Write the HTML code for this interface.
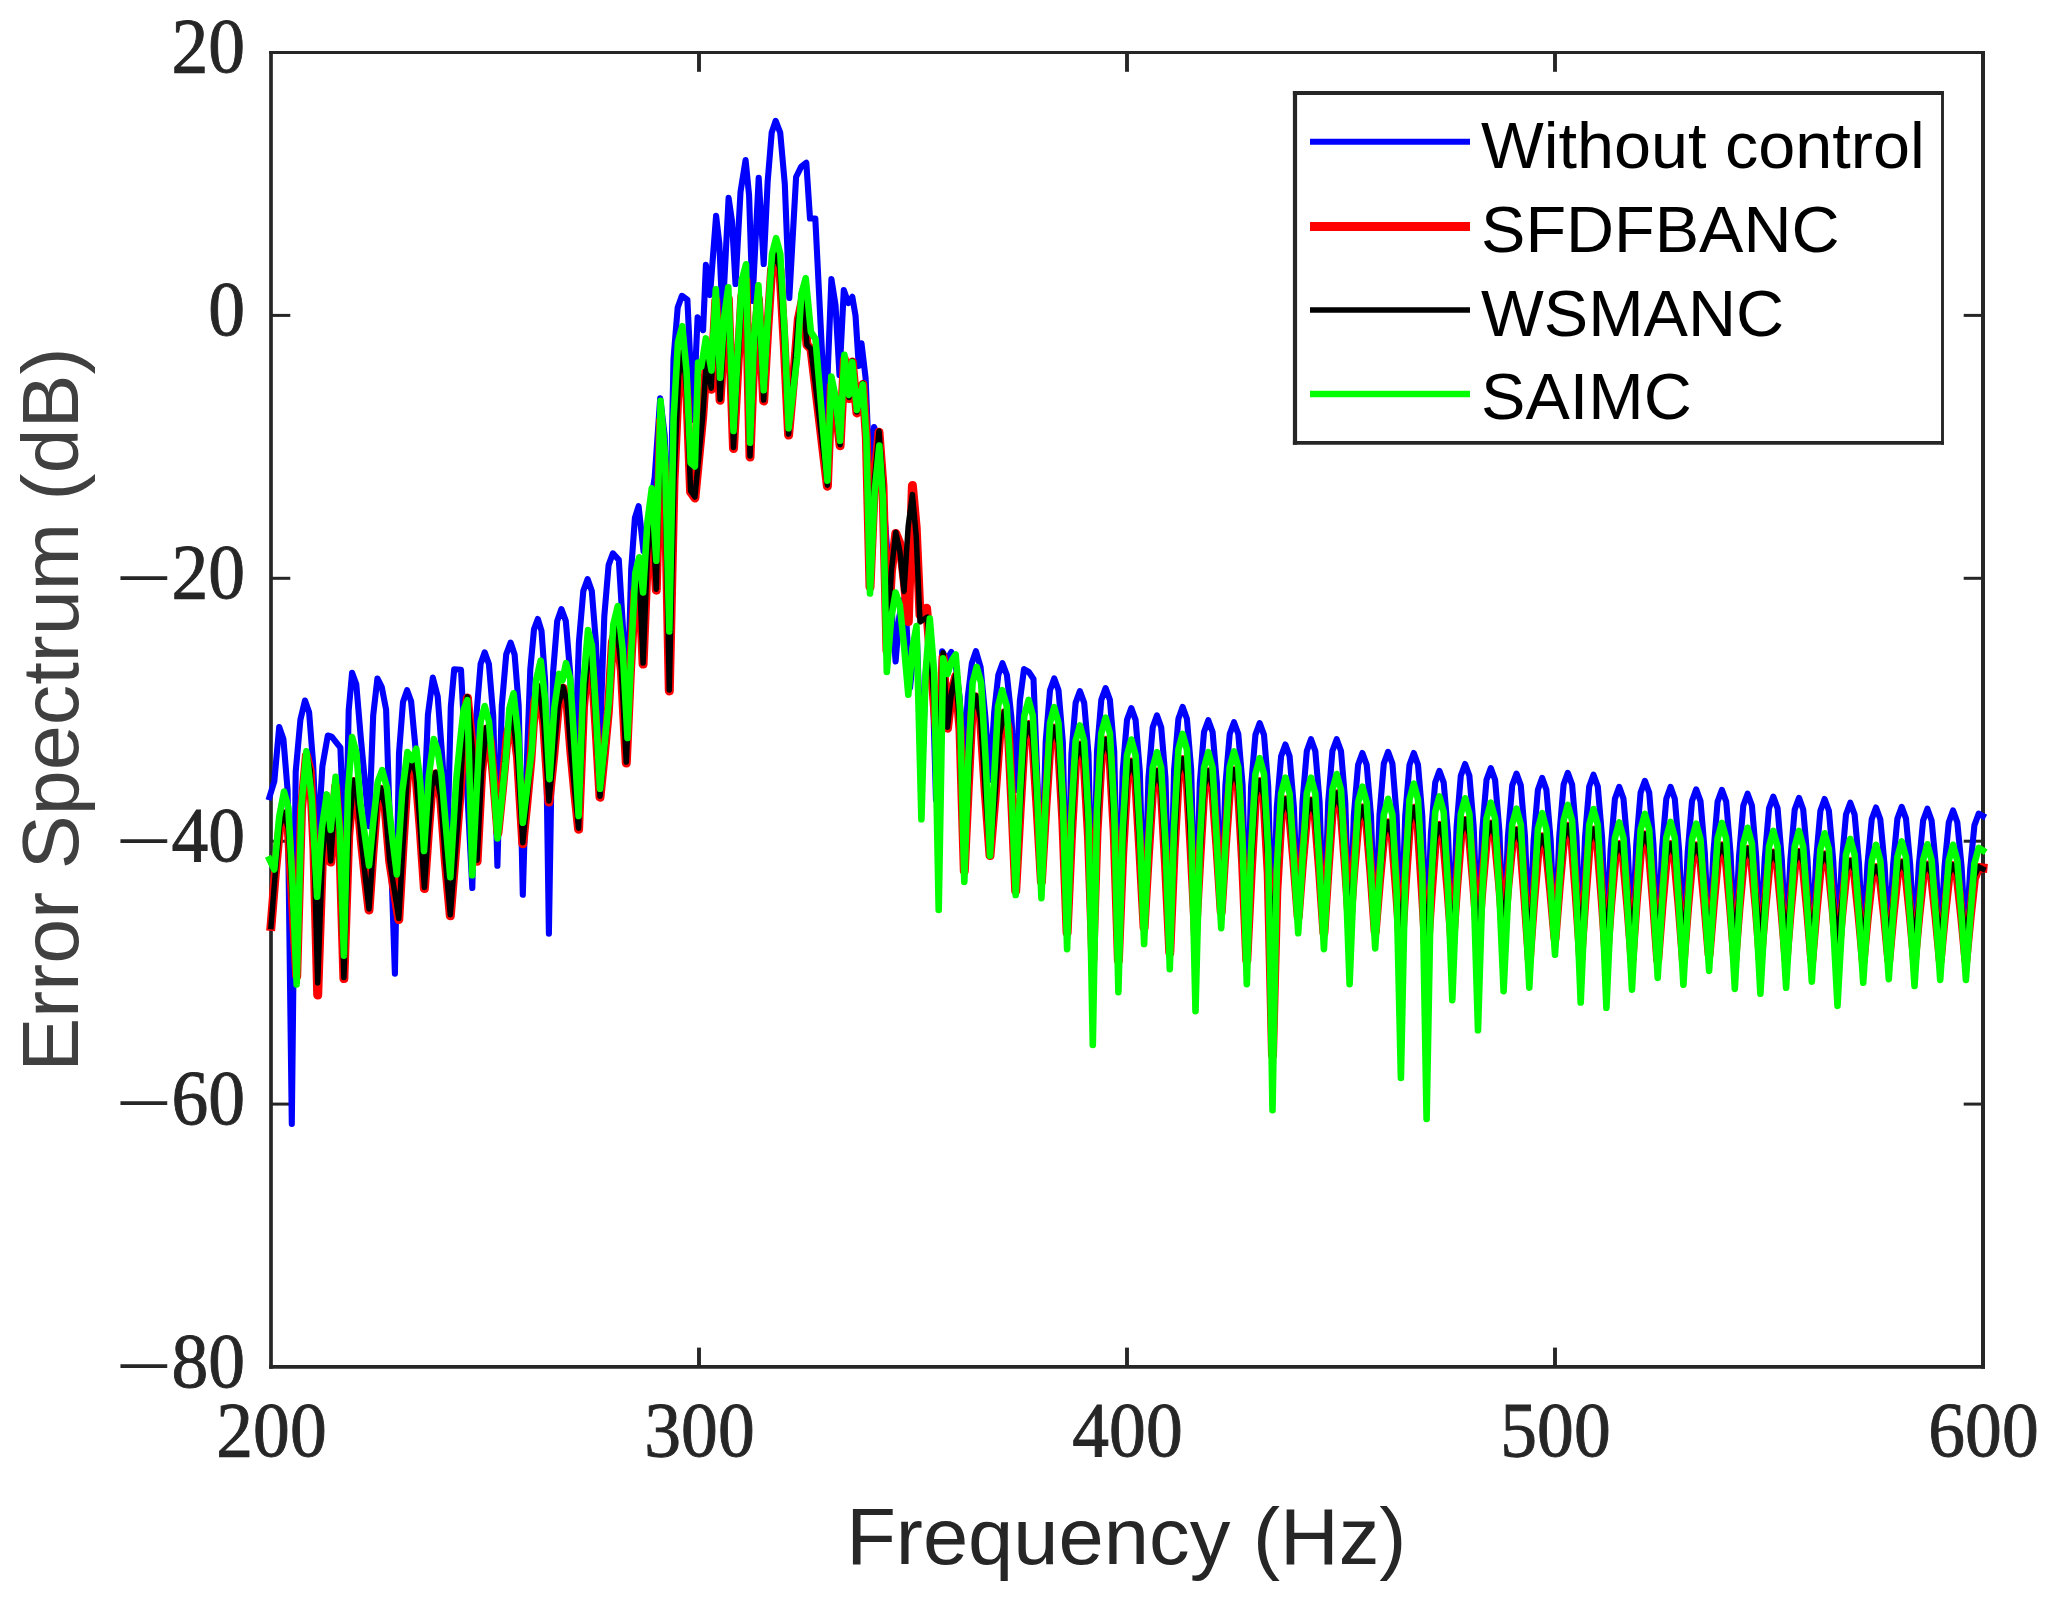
<!DOCTYPE html>
<html><head><meta charset="utf-8"><title>Error Spectrum</title>
<style>html,body{margin:0;padding:0;background:#fff}svg{display:block}</style>
</head><body>
<svg width="2057" height="1605" viewBox="0 0 2057 1605">
<rect width="2057" height="1605" fill="#fff"/>
<line x1="271.00" y1="50.90" x2="271.00" y2="1368.75" stroke="#262626" stroke-width="3.70"/>
<line x1="1983.00" y1="50.90" x2="1983.00" y2="1368.75" stroke="#262626" stroke-width="4.00"/>
<line x1="269.15" y1="52.50" x2="1985.00" y2="52.50" stroke="#262626" stroke-width="3.20"/>
<line x1="269.15" y1="1366.90" x2="1985.00" y2="1366.90" stroke="#262626" stroke-width="3.70"/>
<line x1="699.00" y1="1366.90" x2="699.00" y2="1347.60" stroke="#262626" stroke-width="3.90"/>
<line x1="699.00" y1="52.50" x2="699.00" y2="71.80" stroke="#262626" stroke-width="3.90"/>
<line x1="1127.00" y1="1366.90" x2="1127.00" y2="1347.60" stroke="#262626" stroke-width="3.90"/>
<line x1="1127.00" y1="52.50" x2="1127.00" y2="71.80" stroke="#262626" stroke-width="3.90"/>
<line x1="1555.00" y1="1366.90" x2="1555.00" y2="1347.60" stroke="#262626" stroke-width="3.90"/>
<line x1="1555.00" y1="52.50" x2="1555.00" y2="71.80" stroke="#262626" stroke-width="3.90"/>
<line x1="271.00" y1="315.40" x2="290.30" y2="315.40" stroke="#262626" stroke-width="3.00"/>
<line x1="1983.00" y1="315.40" x2="1963.70" y2="315.40" stroke="#262626" stroke-width="3.00"/>
<line x1="271.00" y1="578.30" x2="290.30" y2="578.30" stroke="#262626" stroke-width="3.00"/>
<line x1="1983.00" y1="578.30" x2="1963.70" y2="578.30" stroke="#262626" stroke-width="3.00"/>
<line x1="271.00" y1="841.20" x2="290.30" y2="841.20" stroke="#262626" stroke-width="3.00"/>
<line x1="1983.00" y1="841.20" x2="1963.70" y2="841.20" stroke="#262626" stroke-width="3.00"/>
<line x1="271.00" y1="1104.10" x2="290.30" y2="1104.10" stroke="#262626" stroke-width="3.00"/>
<line x1="1983.00" y1="1104.10" x2="1963.70" y2="1104.10" stroke="#262626" stroke-width="3.00"/>
<g font-family="'Liberation Serif', 'DejaVu Serif', serif" font-size="78.0" fill="#262626" stroke="#262626" stroke-width="0.9">
<text transform="translate(271.5 1455.8) scale(0.943 1)" text-anchor="middle" class="tk">200</text>
<text transform="translate(699.5 1455.8) scale(0.943 1)" text-anchor="middle" class="tk">300</text>
<text transform="translate(1127.5 1455.8) scale(0.943 1)" text-anchor="middle" class="tk">400</text>
<text transform="translate(1555.5 1455.8) scale(0.943 1)" text-anchor="middle" class="tk">500</text>
<text transform="translate(1983.5 1455.8) scale(0.943 1)" text-anchor="middle" class="tk">600</text>
<text transform="translate(245.0 72.2) scale(0.943 1)" text-anchor="end" class="tk">20</text>
<text transform="translate(245.0 335.1) scale(0.943 1)" text-anchor="end" class="tk">0</text>
<text transform="translate(171.8 582.2) scale(1.270 0.850)" y="20.5" text-anchor="end" stroke-width="0.5">−</text>
<text transform="translate(245.0 598.0) scale(0.943 1)" text-anchor="end" class="tk">20</text>
<text transform="translate(171.8 845.1) scale(1.270 0.850)" y="20.5" text-anchor="end" stroke-width="0.5">−</text>
<text transform="translate(245.0 860.9) scale(0.943 1)" text-anchor="end" class="tk">40</text>
<text transform="translate(171.8 1108.0) scale(1.270 0.850)" y="20.5" text-anchor="end" stroke-width="0.5">−</text>
<text transform="translate(245.0 1123.8) scale(0.943 1)" text-anchor="end" class="tk">60</text>
<text transform="translate(171.8 1370.9) scale(1.270 0.850)" y="20.5" text-anchor="end" stroke-width="0.5">−</text>
<text transform="translate(245.0 1386.7) scale(0.943 1)" text-anchor="end" class="tk">80</text>
</g>
<text transform="translate(1126.3 1563.8) scale(1.023 1)" text-anchor="middle" font-family="'Liberation Sans', Arial, sans-serif" font-size="79.5" fill="#262626">Frequency (Hz)</text>
<text transform="translate(78 709.6) rotate(-90) scale(1.0186 1)" text-anchor="middle" font-family="'Liberation Sans', Arial, sans-serif" font-size="79.5" fill="#404040">Error Spectrum (dB)</text>
<g>
<polyline points="269.4,797.3 274.3,781.4 279.2,727.1 283.4,739.0 287.6,790.2 291.8,1124.0 295.7,771.7 300.4,719.7 305.0,700.5 309.1,712.3 313.1,763.6 317.1,853.3 322.4,766.2 327.8,735.5 331.7,736.7 336.0,742.1 340.4,747.6 345.3,872.8 348.7,710.2 352.1,672.7 356.3,684.4 360.5,734.6 364.8,780.4 369.0,826.1 373.2,715.4 377.4,678.5 381.7,686.9 386.1,709.5 390.5,841.6 394.9,973.7 399.0,753.3 403.0,702.0 407.1,690.2 411.1,701.2 415.1,743.9 419.1,788.9 423.1,833.9 427.9,715.0 432.8,677.6 437.7,696.4 442.5,760.5 447.4,843.6 450.8,706.9 454.2,669.4 457.6,669.5 461.0,669.8 464.8,742.5 468.5,815.3 472.3,888.0 476.4,715.4 480.6,664.1 484.7,652.3 488.9,664.1 493.2,715.4 497.4,865.8 501.8,705.7 506.2,654.4 510.6,642.6 514.6,654.4 518.7,705.7 522.8,894.8 526.5,770.9 530.3,669.4 534.0,629.4 537.8,619.0 541.5,630.8 545.2,682.1 548.9,933.6 553.1,672.2 557.2,620.9 561.4,609.1 565.8,620.9 570.1,672.2 574.5,770.0 578.9,642.2 583.3,591.0 587.6,579.1 591.8,591.0 595.9,642.2 600.0,740.0 604.3,616.4 608.6,565.1 612.9,553.3 618.8,559.9 623.1,629.9 627.5,700.0 631.2,569.3 634.9,518.0 638.6,506.2 643.5,551.1 647.2,526.5 651.0,501.9 654.7,477.2 660.2,398.3 664.7,435.7 669.3,574.5 673.5,358.9 677.7,307.6 681.9,295.8 687.4,299.7 693.0,420.0 697.6,317.4 703.1,330.2 705.9,264.8 710.0,295.1 716.1,215.8 719.3,243.0 722.5,317.2 728.6,197.9 732.0,221.1 735.5,284.0 740.5,192.0 745.6,160.0 749.1,195.5 752.5,301.0 758.7,177.9 763.7,264.0 767.7,180.9 771.7,132.6 775.7,120.8 780.2,132.6 784.8,183.9 789.3,298.0 792.7,237.5 796.1,177.0 801.2,166.6 806.3,162.8 810.0,218.5 815.3,218.5 820.5,322.2 825.6,426.0 831.4,279.1 835.5,305.0 839.5,375.0 843.8,290.0 848.3,303.0 852.3,296.8 855.5,315.5 858.8,366.0 861.5,343.4 865.6,378.0 869.8,480.0 874.1,427.1 878.4,439.2 882.7,490.7 887.0,547.6 891.3,604.5 895.6,661.4 899.3,616.6 903.0,600.0 906.5,623.8 910.0,688.0 913.5,653.0 917.0,640.0 922.0,780.0 925.5,675.3 929.0,640.0 932.5,677.5 936.0,800.0 942.2,651.2 946.8,660.0 951.3,652.0 955.5,663.8 959.6,697.4 963.8,760.0 967.8,696.9 971.9,663.0 975.9,651.2 980.6,667.2 985.3,716.6 990.0,780.0 994.2,712.3 998.3,675.0 1002.5,663.2 1006.9,675.0 1011.3,716.5 1015.7,790.0 1019.9,700.4 1024.0,669.1 1028.8,671.8 1033.5,679.0 1037.5,783.2 1041.4,887.4 1045.7,741.5 1050.0,690.2 1054.2,678.4 1058.5,690.2 1062.8,741.5 1067.1,938.4 1071.4,754.2 1075.6,702.9 1079.9,691.1 1084.2,702.9 1088.5,754.2 1092.8,945.0 1097.0,751.2 1101.3,699.9 1105.6,688.1 1109.9,699.9 1114.2,751.2 1118.4,945.0 1122.7,771.2 1127.0,719.9 1131.3,708.1 1135.6,719.9 1139.8,771.2 1144.1,933.3 1148.4,778.5 1152.7,727.2 1157.0,715.4 1161.2,727.2 1165.5,778.5 1169.8,945.0 1174.1,770.0 1178.4,718.7 1182.6,706.9 1186.9,718.7 1191.2,770.0 1195.5,945.0 1199.8,783.3 1204.0,732.0 1208.3,720.2 1212.6,732.0 1216.9,783.3 1221.2,917.5 1225.4,785.3 1229.7,734.0 1234.0,722.2 1238.3,734.0 1242.6,785.3 1246.8,945.0 1251.1,786.2 1255.4,734.9 1259.7,723.1 1264.0,734.9 1268.2,786.2 1272.5,945.0 1276.8,807.6 1281.1,756.3 1285.4,744.5 1289.6,756.3 1293.9,807.6 1298.2,922.6 1302.5,802.3 1306.8,751.0 1311.0,739.2 1315.3,751.0 1319.6,802.3 1323.9,938.4 1328.2,802.3 1332.4,751.0 1336.7,739.2 1341.0,751.0 1345.3,802.3 1349.6,945.0 1353.8,816.1 1358.1,764.8 1362.4,753.0 1366.7,764.8 1371.0,816.1 1375.2,937.7 1379.5,814.9 1383.8,763.6 1388.1,751.8 1392.4,763.6 1396.6,814.9 1400.9,945.0 1405.2,816.1 1409.5,764.8 1413.8,753.0 1418.0,764.8 1422.3,816.1 1426.6,945.0 1430.9,833.9 1435.2,782.6 1439.4,770.8 1443.7,782.6 1448.0,833.9 1452.3,945.0 1456.6,827.1 1460.8,775.8 1465.1,764.0 1469.4,775.8 1473.7,827.1 1478.0,945.0 1482.2,831.2 1486.5,779.9 1490.8,768.1 1495.1,779.9 1499.4,831.2 1503.6,945.0 1507.9,836.7 1512.2,785.4 1516.5,773.6 1520.8,785.4 1525.0,836.7 1529.3,945.0 1533.6,841.0 1537.9,789.7 1542.2,777.9 1546.4,789.7 1550.7,841.0 1555.0,944.1 1559.3,835.9 1563.6,784.6 1567.8,772.8 1572.1,784.6 1576.4,835.9 1580.7,945.0 1585.0,837.8 1589.2,786.5 1593.5,774.7 1597.8,786.5 1602.1,837.8 1606.4,945.0 1610.6,850.0 1614.9,798.7 1619.2,786.9 1623.5,798.7 1627.8,850.0 1632.0,945.0 1636.3,843.9 1640.6,792.6 1644.9,780.8 1649.2,792.6 1653.4,843.9 1657.7,945.0 1662.0,850.0 1666.3,798.7 1670.6,786.9 1674.8,798.7 1679.1,850.0 1683.4,945.0 1687.7,852.4 1692.0,801.1 1696.2,789.3 1700.5,801.1 1704.8,852.4 1709.1,945.0 1713.4,852.9 1717.6,801.6 1721.9,789.8 1726.2,801.6 1730.5,852.9 1734.8,945.0 1739.0,856.8 1743.3,805.5 1747.6,793.7 1751.9,805.5 1756.2,856.8 1760.4,945.0 1764.7,858.9 1769.0,808.4 1773.3,796.6 1777.6,808.4 1781.8,858.9 1786.1,945.0 1790.4,859.6 1794.7,809.6 1799.0,797.8 1803.2,809.6 1807.5,859.6 1811.8,945.0 1816.1,860.3 1820.4,810.8 1824.6,799.0 1828.9,810.8 1833.2,860.3 1837.5,945.0 1841.8,862.5 1846.0,814.5 1850.3,802.7 1854.6,814.5 1858.9,862.5 1863.2,945.0 1867.4,865.2 1871.7,819.3 1876.0,807.5 1880.3,819.3 1884.6,865.2 1888.8,945.0 1893.1,864.8 1897.4,818.6 1901.7,806.8 1906.0,818.6 1910.2,864.8 1914.5,945.0 1918.8,865.9 1923.1,820.5 1927.4,808.7 1931.6,820.5 1935.9,865.9 1940.2,945.0 1944.5,866.9 1948.8,822.2 1953.0,810.4 1957.3,822.2 1961.6,866.9 1965.9,945.0 1970.2,868.8 1974.4,825.4 1978.7,813.6 1983.0,816.0" fill="none" stroke="#0000ff" stroke-width="6.10" stroke-linejoin="round" stroke-linecap="square"/>
<polyline points="271.0,926.5 275.3,873.5 279.7,827.2 284.0,813.7 288.3,829.5 292.5,899.7 296.7,976.0 301.5,809.3 306.4,755.4 310.2,771.1 313.9,847.4 317.7,995.0 322.3,859.8 326.8,805.9 330.7,862.1 335.6,786.5 339.7,840.4 343.9,978.6 348.7,835.3 353.5,781.4 357.3,795.4 361.2,839.9 365.1,876.4 369.0,910.0 372.9,853.2 376.8,803.7 380.7,789.2 385.2,807.9 389.7,861.4 394.2,890.4 398.8,919.5 403.1,844.6 407.4,775.8 411.8,760.0 416.0,775.5 420.2,828.2 424.4,888.6 428.2,834.6 431.9,787.4 435.7,773.7 440.6,797.5 445.4,861.9 450.3,915.8 455.2,855.4 460.0,795.0 463.7,729.5 467.4,698.0 472.3,749.1 477.1,861.2 481.7,771.9 486.3,728.9 490.2,741.4 494.0,784.1 497.9,833.0 502.7,786.5 507.4,734.5 512.1,715.3 517.5,757.1 522.8,843.8 526.8,804.1 530.8,761.1 534.8,702.0 538.8,687.3 543.8,724.6 548.9,802.0 553.6,757.1 558.3,706.7 563.1,688.1 567.0,702.4 570.9,752.1 574.7,792.4 578.6,829.3 583.5,707.2 588.4,653.3 592.2,669.1 596.1,729.5 600.0,797.2 604.2,755.7 608.3,712.1 612.4,642.3 616.6,627.0 621.4,671.0 626.3,763.1 630.6,667.7 634.9,591.4 639.2,575.7 643.1,664.1 647.4,557.0 651.8,507.6 656.3,590.2 660.6,420.1 664.9,474.0 669.3,691.0 674.0,481.0 678.7,375.8 683.4,352.9 687.0,397.6 690.6,492.0 694.9,498.0 698.8,457.5 702.7,417.1 706.6,359.3 711.2,389.2 715.8,300.3 720.1,400.3 724.2,331.9 728.3,299.0 733.5,448.4 737.7,369.5 741.8,296.3 746.0,280.6 750.0,457.0 754.2,348.7 758.4,299.0 763.7,401.0 767.6,331.8 771.6,269.6 775.5,253.8 779.9,269.6 784.3,345.8 788.6,435.1 793.4,381.8 798.3,319.4 803.1,296.5 807.0,345.0 810.9,348.8 815.1,383.2 819.2,417.5 823.3,451.9 827.4,486.2 831.3,385.6 835.7,405.1 840.1,445.8 844.4,359.3 849.0,398.5 852.3,362.1 856.9,412.9 862.8,384.4 866.4,438.3 870.0,587.0 874.5,481.2 879.0,432.3 883.0,486.2 887.0,651.0 891.4,571.6 895.8,533.4 900.0,544.0 904.1,580.1 908.3,621.6 912.4,485.6 916.2,527.7 920.0,615.0 923.3,611.6 926.6,608.3 930.6,659.2 934.7,710.1 938.7,761.0 943.1,657.0 947.5,728.2 951.6,693.1 955.7,676.2 960.0,730.1 964.3,871.0 968.2,788.8 972.0,712.6 975.9,696.8 980.6,719.3 985.3,792.2 990.0,855.5 994.8,800.4 999.6,735.8 1004.4,712.8 1008.2,728.6 1011.9,804.8 1015.7,891.0 1020.0,812.7 1024.3,740.2 1028.6,724.4 1032.8,740.2 1037.1,807.9 1041.4,881.9 1045.7,809.6 1050.0,743.8 1054.2,728.0 1058.5,743.8 1062.8,820.0 1067.1,932.9 1071.4,837.0 1075.6,760.8 1079.9,745.0 1084.2,760.8 1088.5,837.0 1092.8,960.5 1097.0,832.2 1101.3,756.0 1105.6,740.2 1109.9,756.0 1114.2,832.2 1118.4,960.5 1122.7,854.1 1127.0,777.9 1131.3,762.1 1135.6,777.9 1139.8,849.9 1144.1,927.8 1148.4,854.5 1152.7,787.6 1157.0,771.8 1161.2,787.6 1165.5,863.8 1169.8,952.9 1174.1,851.6 1178.4,775.4 1182.6,759.6 1186.9,775.4 1191.2,851.6 1195.5,936.5 1199.8,859.1 1204.0,787.6 1208.3,771.8 1212.6,787.6 1216.9,846.1 1221.2,912.0 1225.4,845.5 1229.7,786.4 1234.0,770.6 1238.3,786.4 1242.6,862.6 1246.8,960.5 1251.1,873.5 1255.4,797.3 1259.7,781.5 1264.0,797.3 1268.2,873.5 1272.5,1055.5 1276.8,891.7 1281.1,815.5 1285.4,799.7 1289.6,813.8 1293.9,861.9 1298.2,917.1 1302.5,862.5 1306.8,814.8 1311.0,800.9 1315.3,816.7 1319.6,870.9 1323.9,932.9 1328.2,867.5 1332.4,809.5 1336.7,793.7 1341.0,809.5 1345.3,864.6 1349.6,927.5 1353.8,871.2 1358.1,822.2 1362.4,807.8 1366.7,822.7 1371.0,873.7 1375.2,932.2 1379.5,880.8 1383.8,835.9 1388.1,822.8 1392.4,838.5 1396.6,892.1 1400.9,953.5 1405.2,885.2 1409.5,824.0 1413.8,808.2 1418.0,824.0 1422.3,890.5 1426.6,963.5 1430.9,898.5 1435.2,841.1 1439.4,825.3 1443.7,840.1 1448.0,890.6 1452.3,948.5 1456.6,888.3 1460.8,835.8 1465.1,820.4 1469.4,834.9 1473.7,884.6 1478.0,941.5 1482.2,886.3 1486.5,838.1 1490.8,824.0 1495.1,837.3 1499.4,882.6 1503.6,934.5 1507.9,885.6 1512.2,843.0 1516.5,830.5 1520.8,846.1 1525.0,899.4 1529.3,960.5 1533.6,902.3 1537.9,851.6 1542.2,836.7 1546.4,848.9 1550.7,890.7 1555.0,938.6 1559.3,885.8 1563.6,839.8 1567.8,826.3 1572.1,842.1 1576.4,897.4 1580.7,960.5 1585.0,899.1 1589.2,845.6 1593.5,829.9 1597.8,845.6 1602.1,899.1 1606.4,960.5 1610.6,906.0 1614.9,858.4 1619.2,844.5 1623.5,858.4 1627.8,906.0 1632.0,960.5 1636.3,901.4 1640.6,849.9 1644.9,834.8 1649.2,849.9 1653.4,901.4 1657.7,960.5 1662.0,906.0 1666.3,858.4 1670.6,844.5 1674.8,858.4 1679.1,906.0 1683.4,960.5 1687.7,906.5 1692.0,859.5 1696.2,845.7 1700.5,858.8 1704.8,903.5 1709.1,954.7 1713.4,903.5 1717.6,858.8 1721.9,845.7 1726.2,859.5 1730.5,906.5 1734.8,960.5 1739.0,908.2 1743.3,862.6 1747.6,849.3 1751.9,862.6 1756.2,908.2 1760.4,960.5 1764.7,910.0 1769.0,865.9 1773.3,853.0 1777.6,865.9 1781.8,910.0 1786.1,960.5 1790.4,909.6 1794.7,865.3 1799.0,852.3 1803.2,865.3 1807.5,909.6 1811.8,960.5 1816.1,910.8 1820.4,867.4 1824.6,854.7 1828.9,867.4 1833.2,910.8 1837.5,960.5 1841.8,914.0 1846.0,873.4 1850.3,861.5 1854.6,873.4 1858.9,914.0 1863.2,960.5 1867.4,916.8 1871.7,878.7 1876.0,867.6 1880.3,878.7 1884.6,916.8 1888.8,960.5 1893.1,914.5 1897.4,874.4 1901.7,862.7 1906.0,874.4 1910.2,914.5 1914.5,960.5 1918.8,915.7 1923.1,876.5 1927.4,865.1 1931.6,876.5 1935.9,915.7 1940.2,960.5 1944.5,915.9 1948.8,877.0 1953.0,865.6 1957.3,877.0 1961.6,915.9 1965.9,960.5 1970.2,916.8 1974.4,878.7 1978.7,867.6 1983.0,868.0" fill="none" stroke="#ff0000" stroke-width="9.00" stroke-linejoin="round" stroke-linecap="square"/>
<polyline points="271.0,926.5 275.3,872.9 279.7,826.2 284.0,812.5 288.3,828.3 292.5,898.6 296.7,975.0 301.5,808.1 306.4,754.2 310.2,769.9 313.9,846.2 317.7,983.0 322.3,858.6 326.8,804.7 330.7,861.1 335.6,785.3 339.7,839.2 343.9,977.6 348.7,834.1 353.5,780.2 357.3,794.3 361.2,838.8 365.1,875.3 369.0,909.0 372.9,852.1 376.8,802.5 380.7,788.0 385.2,806.7 389.7,860.3 394.2,889.4 398.8,918.5 403.1,843.5 407.4,774.6 411.8,758.8 416.0,774.3 420.2,827.1 424.4,887.6 428.2,833.5 431.9,786.3 435.7,772.5 440.6,796.3 445.4,860.8 450.3,914.8 455.2,854.9 460.0,795.0 463.7,728.7 467.4,696.8 472.3,748.0 477.1,860.2 481.7,770.7 486.3,727.7 490.2,740.2 494.0,783.0 497.9,832.0 502.7,785.5 507.4,733.4 512.1,714.1 517.5,756.0 522.8,842.8 526.8,803.1 530.8,760.0 534.8,700.8 538.8,686.1 543.8,723.5 548.9,801.0 553.6,756.0 558.3,705.5 563.1,686.9 567.0,701.2 570.9,751.0 574.7,791.3 578.6,828.3 583.5,706.0 588.4,652.1 592.2,667.9 596.1,728.5 600.0,796.2 604.2,754.7 608.3,711.0 612.4,641.1 616.6,625.8 621.4,669.8 626.3,762.1 630.6,666.5 634.9,590.2 639.2,574.5 643.1,663.1 647.4,555.8 651.8,506.4 656.3,589.2 660.6,418.9 664.9,472.8 669.3,690.0 674.0,479.8 678.7,374.6 683.4,351.7 687.0,396.5 690.6,491.0 694.9,497.0 698.8,457.0 702.7,417.1 706.6,358.1 711.2,388.2 715.8,299.1 720.1,399.3 724.2,330.8 728.3,297.8 733.5,447.4 737.7,368.4 741.8,295.1 746.0,279.4 750.0,456.0 754.2,347.6 758.4,297.8 763.7,400.0 767.6,330.7 771.6,268.4 775.5,252.6 779.9,268.4 784.3,344.6 788.6,434.1 793.4,380.7 798.3,318.2 803.1,295.3 807.0,345.0 810.9,348.8 815.1,382.9 819.2,417.0 823.3,451.1 827.4,485.2 831.3,384.4 835.7,404.0 840.1,444.8 844.4,358.1 849.0,397.5 852.3,360.9 856.9,411.9 862.8,383.2 866.4,437.1 870.0,586.0 874.5,480.0 879.0,431.1 883.0,485.0 887.0,650.0 891.4,570.5 895.8,532.2 899.9,551.4 904.0,591.4 908.2,526.0 912.4,494.5 916.2,535.9 920.0,622.0 923.6,619.5 927.3,617.1 931.1,664.7 934.9,712.4 938.7,760.0 943.1,652.8 947.5,727.2 951.6,692.0 955.7,675.0 960.0,728.9 964.3,870.0 968.2,787.6 972.0,711.4 975.9,695.6 980.6,718.1 985.3,791.1 990.0,854.5 994.8,799.3 999.6,734.7 1004.4,711.6 1008.2,727.4 1011.9,803.6 1015.7,890.0 1020.0,811.8 1024.3,739.4 1028.6,723.6 1032.8,739.4 1037.1,807.4 1041.4,881.6 1045.7,809.1 1050.0,743.0 1054.2,727.2 1058.5,743.0 1062.8,819.3 1067.1,932.6 1071.4,836.3 1075.6,760.0 1079.9,744.2 1084.2,760.0 1088.5,836.3 1092.8,943.2 1097.0,831.5 1101.3,755.2 1105.6,739.5 1109.9,755.2 1114.2,831.5 1118.4,943.2 1122.7,853.4 1127.0,777.1 1131.3,761.4 1135.6,777.1 1139.8,849.4 1144.1,927.5 1148.4,854.0 1152.7,786.8 1157.0,771.0 1161.2,786.8 1165.5,862.3 1169.8,943.2 1174.1,850.9 1178.4,774.6 1182.6,758.9 1186.9,774.6 1191.2,850.9 1195.5,936.2 1199.8,858.6 1204.0,786.8 1208.3,771.0 1212.6,786.8 1216.9,845.6 1221.2,911.8 1225.4,845.1 1229.7,785.6 1234.0,769.9 1238.3,785.6 1242.6,861.8 1246.8,943.2 1251.1,866.9 1255.4,796.5 1259.7,780.8 1264.0,796.5 1268.2,866.9 1272.5,943.2 1276.8,875.4 1281.1,814.7 1285.4,799.0 1289.6,813.1 1293.9,861.4 1298.2,916.9 1302.5,862.0 1306.8,814.2 1311.0,800.1 1315.3,815.9 1319.6,870.4 1323.9,932.6 1328.2,867.0 1332.4,808.7 1336.7,793.0 1341.0,808.7 1345.3,864.1 1349.6,927.2 1353.8,870.8 1358.1,821.5 1362.4,807.0 1366.7,822.0 1371.0,873.2 1375.2,932.0 1379.5,880.3 1383.8,835.2 1388.1,822.0 1392.4,836.6 1396.6,886.3 1400.9,943.2 1405.2,879.4 1409.5,823.2 1413.8,807.5 1418.0,823.2 1422.3,879.4 1426.6,943.2 1430.9,887.5 1435.2,838.8 1439.4,824.5 1443.7,838.8 1448.0,887.5 1452.3,943.2 1456.6,885.2 1460.8,834.5 1465.1,819.6 1469.4,834.2 1473.7,884.1 1478.0,941.2 1482.2,885.8 1486.5,837.4 1490.8,823.2 1495.1,836.6 1499.4,882.1 1503.6,934.2 1507.9,885.1 1512.2,842.3 1516.5,829.8 1520.8,843.4 1525.0,889.9 1529.3,943.2 1533.6,892.8 1537.9,848.8 1542.2,836.0 1546.4,848.2 1550.7,890.2 1555.0,938.4 1559.3,885.3 1563.6,839.1 1567.8,825.5 1572.1,839.7 1576.4,887.9 1580.7,943.2 1585.0,889.6 1589.2,842.8 1593.5,829.1 1597.8,842.8 1602.1,889.6 1606.4,943.2 1610.6,896.5 1614.9,855.7 1619.2,843.8 1623.5,855.7 1627.8,896.5 1632.0,943.2 1636.3,891.9 1640.6,847.2 1644.9,834.0 1649.2,847.2 1653.4,891.9 1657.7,943.2 1662.0,896.5 1666.3,855.7 1670.6,843.8 1674.8,855.7 1679.1,896.5 1683.4,943.2 1687.7,897.0 1692.0,856.7 1696.2,845.0 1700.5,856.7 1704.8,897.0 1709.1,943.2 1713.4,897.0 1717.6,856.7 1721.9,845.0 1726.2,856.7 1730.5,897.0 1734.8,943.2 1739.0,898.7 1743.3,859.9 1747.6,848.5 1751.9,859.9 1756.2,898.7 1760.4,943.2 1764.7,900.5 1769.0,863.2 1773.3,852.2 1777.6,863.2 1781.8,900.5 1786.1,943.2 1790.4,900.2 1794.7,862.6 1799.0,851.5 1803.2,862.6 1807.5,900.2 1811.8,943.2 1816.1,901.3 1820.4,864.7 1824.6,854.0 1828.9,864.7 1833.2,901.3 1837.5,943.2 1841.8,904.5 1846.0,870.6 1850.3,860.8 1854.6,870.6 1858.9,904.5 1863.2,943.2 1867.4,907.3 1871.7,876.0 1876.0,866.9 1880.3,876.0 1884.6,907.3 1888.8,943.2 1893.1,905.0 1897.4,871.7 1901.7,862.0 1906.0,871.7 1910.2,905.0 1914.5,943.2 1918.8,906.2 1923.1,873.8 1927.4,864.4 1931.6,873.8 1935.9,906.2 1940.2,943.2 1944.5,906.4 1948.8,874.3 1953.0,864.9 1957.3,874.3 1961.6,906.4 1965.9,943.2 1970.2,907.3 1974.4,876.0 1978.7,866.9 1983.0,869.0" fill="none" stroke="#000000" stroke-width="5.50" stroke-linejoin="round" stroke-linecap="square"/>
<polyline points="269.4,859.2 274.3,869.5 279.2,816.9 284.0,791.5 288.3,807.3 292.5,883.5 296.7,984.5 301.5,805.2 306.4,751.3 311.7,797.7 317.1,896.7 321.9,827.7 326.8,794.4 330.7,830.0 335.6,776.9 339.7,830.8 343.9,955.7 348.0,791.0 352.1,737.1 356.3,752.3 360.5,803.9 364.8,835.0 369.0,865.6 373.4,820.7 377.8,781.6 382.2,770.1 387.1,788.4 392.0,834.8 396.8,874.4 402.2,791.8 407.5,752.0 411.8,760.0 416.3,748.7 420.2,782.0 424.0,851.0 428.9,775.4 433.8,739.0 437.7,750.9 441.5,775.6 445.9,826.4 450.3,877.3 456.1,781.4 459.9,743.2 463.6,709.9 467.4,700.1 472.3,875.3 476.4,795.7 480.6,721.7 484.7,706.0 489.0,721.7 493.3,776.1 497.5,838.4 501.5,801.6 505.5,761.8 509.5,708.0 513.5,693.3 518.2,735.4 522.8,822.8 527.3,786.3 531.8,749.7 536.2,679.6 540.7,660.6 545.1,699.1 549.5,779.1 554.3,708.1 559.2,673.9 562.5,680.3 566.0,663.2 570.2,678.9 574.4,744.2 578.6,816.0 583.3,684.0 588.0,630.1 592.0,645.9 596.0,714.2 600.0,788.8 604.5,745.0 608.9,701.1 613.3,624.6 617.8,606.0 622.6,648.8 627.5,738.0 631.4,649.4 635.3,573.1 639.2,557.3 643.1,592.5 647.4,522.2 651.8,488.3 656.3,560.8 660.6,400.8 664.9,454.7 669.3,631.4 673.6,418.2 678.0,342.0 682.3,326.2 686.5,370.4 690.6,463.0 694.9,466.5 698.1,362.5 701.3,366.7 705.9,338.4 711.5,370.6 715.8,289.2 720.1,377.8 724.2,316.7 728.3,287.3 733.5,431.0 737.7,352.6 741.8,280.1 746.0,264.3 750.0,442.8 754.2,334.9 758.4,285.3 763.7,390.3 767.8,318.8 772.0,254.0 776.1,238.2 780.3,254.0 784.5,330.2 788.6,428.3 792.9,392.9 797.2,357.3 801.4,293.8 805.7,278.1 810.9,331.9 815.5,339.1 819.5,386.3 823.4,433.5 827.4,480.7 831.3,376.5 835.7,397.4 840.1,440.8 844.4,354.8 849.0,394.9 852.3,362.1 856.9,410.0 862.8,384.4 866.4,438.3 870.0,593.5 874.6,492.6 879.3,445.5 883.0,499.4 886.8,672.0 891.2,618.4 895.6,592.6 899.8,604.9 904.1,646.8 908.3,694.8 912.4,648.4 916.5,626.1 921.4,819.3 925.6,672.4 929.8,618.5 934.2,672.4 938.7,910.0 943.1,658.4 947.5,674.0 951.6,660.9 955.7,654.6 960.0,708.5 964.3,882.0 968.4,758.9 972.6,682.7 976.7,666.9 981.1,682.7 985.6,758.9 990.0,855.8 994.1,778.0 998.1,706.0 1002.2,690.2 1006.7,706.0 1011.2,782.2 1015.7,895.0 1020.0,791.9 1024.3,715.7 1028.6,699.9 1032.8,715.7 1037.1,791.9 1041.4,898.1 1045.7,799.2 1050.0,723.0 1054.2,707.2 1058.5,723.0 1062.8,799.2 1067.1,949.1 1071.4,817.4 1075.6,741.2 1079.9,725.4 1084.2,741.2 1088.5,817.4 1092.8,1044.9 1097.0,809.6 1101.3,733.4 1105.6,717.6 1109.9,733.4 1114.2,809.6 1118.4,992.2 1122.7,831.5 1127.0,755.3 1131.3,739.5 1135.6,755.3 1139.8,831.5 1144.1,944.0 1148.4,844.1 1152.7,767.9 1157.0,752.1 1161.2,767.9 1165.5,844.1 1169.8,969.1 1174.1,825.9 1178.4,749.7 1182.6,733.9 1186.9,749.7 1191.2,825.9 1195.5,1011.1 1199.8,844.1 1204.0,767.9 1208.3,752.1 1212.6,767.9 1216.9,844.1 1221.2,928.2 1225.4,843.4 1229.7,767.2 1234.0,751.4 1238.3,767.2 1242.6,843.4 1246.8,984.1 1251.1,850.2 1255.4,774.0 1259.7,758.2 1264.0,774.0 1268.2,850.2 1272.5,1110.1 1276.8,869.7 1281.1,793.5 1285.4,777.7 1289.6,793.5 1293.9,860.2 1298.2,933.3 1302.5,860.2 1306.8,793.5 1311.0,777.7 1315.3,793.5 1319.6,868.5 1323.9,949.1 1328.2,866.0 1332.4,789.8 1336.7,774.0 1341.0,789.8 1345.3,866.0 1349.6,984.1 1353.8,878.6 1358.1,802.4 1362.4,786.6 1366.7,802.4 1371.0,872.4 1375.2,948.4 1379.5,878.1 1383.8,814.6 1388.1,798.8 1392.4,814.6 1396.6,890.8 1400.9,1078.0 1405.2,875.7 1409.5,799.5 1413.8,783.7 1418.0,799.5 1422.3,875.7 1426.6,1119.0 1430.9,888.4 1435.2,812.2 1439.4,796.4 1443.7,812.2 1448.0,888.4 1452.3,1000.2 1456.6,890.3 1460.8,814.1 1465.1,798.3 1469.4,814.1 1473.7,890.3 1478.0,1030.3 1482.2,894.7 1486.5,818.5 1490.8,802.7 1495.1,818.5 1499.4,894.7 1503.6,991.1 1507.9,900.7 1512.2,824.5 1516.5,808.7 1520.8,824.5 1525.0,900.7 1529.3,987.7 1533.6,905.2 1537.9,829.0 1542.2,813.2 1546.4,829.0 1550.7,888.2 1555.0,954.8 1559.3,884.3 1563.6,820.7 1567.8,804.9 1572.1,820.7 1576.4,896.9 1580.7,1002.5 1585.0,901.0 1589.2,824.8 1593.5,809.0 1597.8,824.8 1602.1,901.0 1606.4,1007.8 1610.6,914.4 1614.9,838.2 1619.2,822.4 1623.5,838.2 1627.8,911.0 1632.0,989.6 1636.3,905.9 1640.6,829.7 1644.9,813.9 1649.2,829.7 1653.4,900.8 1657.7,977.9 1662.0,904.6 1666.3,837.7 1670.6,821.9 1674.8,837.7 1679.1,908.2 1683.4,984.7 1687.7,909.0 1692.0,839.4 1696.2,823.6 1700.5,839.4 1704.8,901.7 1709.1,970.9 1713.4,901.3 1717.6,838.7 1721.9,822.9 1726.2,838.7 1730.5,910.9 1734.8,988.9 1739.0,913.2 1743.3,843.6 1747.6,827.8 1751.9,843.6 1756.2,915.7 1760.4,993.7 1764.7,917.2 1769.0,846.7 1773.3,830.9 1777.6,846.7 1781.8,914.0 1786.1,987.7 1790.4,914.0 1794.7,846.7 1799.0,830.9 1803.2,846.7 1807.5,910.8 1811.8,981.6 1816.1,911.9 1820.4,849.1 1824.6,833.3 1828.9,849.1 1833.2,924.8 1837.5,1005.9 1841.8,927.4 1846.0,854.7 1850.3,838.9 1854.6,854.7 1858.9,915.2 1863.2,982.8 1867.4,917.9 1871.7,860.6 1876.0,844.8 1880.3,860.6 1884.6,916.0 1888.8,979.1 1893.1,914.4 1897.4,857.2 1901.7,841.4 1906.0,857.2 1910.2,918.0 1914.5,986.0 1918.8,919.4 1923.1,860.1 1927.4,844.3 1931.6,860.1 1935.9,916.2 1940.2,979.9 1944.5,916.4 1948.8,860.6 1953.0,844.8 1957.3,860.6 1961.6,916.4 1965.9,979.9 1970.2,917.9 1974.4,863.7 1978.7,847.9 1983.0,850.5" fill="none" stroke="#00ff00" stroke-width="6.60" stroke-linejoin="round" stroke-linecap="square"/>
</g>
<rect x="1295" y="93" width="647.5" height="349.9" fill="#fff"/>
<line x1="1295.00" y1="91.00" x2="1295.00" y2="444.70" stroke="#262626" stroke-width="4.20"/>
<line x1="1942.50" y1="91.00" x2="1942.50" y2="444.70" stroke="#262626" stroke-width="2.90"/>
<line x1="1292.90" y1="93.00" x2="1943.95" y2="93.00" stroke="#262626" stroke-width="4.00"/>
<line x1="1292.90" y1="442.90" x2="1943.95" y2="442.90" stroke="#262626" stroke-width="3.65"/>
<line x1="1310" y1="141.8" x2="1470" y2="141.8" stroke="#0000ff" stroke-width="6.1"/>
<text transform="translate(1481.0 168.2) scale(1.024 1)" font-family="'Liberation Sans', Arial, sans-serif" font-size="65" fill="#000">Without control</text>
<line x1="1310" y1="226.4" x2="1470" y2="226.4" stroke="#ff0000" stroke-width="9.0"/>
<text transform="translate(1481.0 251.6) scale(1.024 1)" font-family="'Liberation Sans', Arial, sans-serif" font-size="65" fill="#000">SFDFBANC</text>
<line x1="1310" y1="310.0" x2="1470" y2="310.0" stroke="#000000" stroke-width="5.5"/>
<text transform="translate(1481.0 335.6) scale(1.024 1)" font-family="'Liberation Sans', Arial, sans-serif" font-size="65" fill="#000">WSMANC</text>
<line x1="1310" y1="394.0" x2="1470" y2="394.0" stroke="#00ff00" stroke-width="6.6"/>
<text transform="translate(1481.0 419.2) scale(1.024 1)" font-family="'Liberation Sans', Arial, sans-serif" font-size="65" fill="#000">SAIMC</text>
</svg>
</body></html>
